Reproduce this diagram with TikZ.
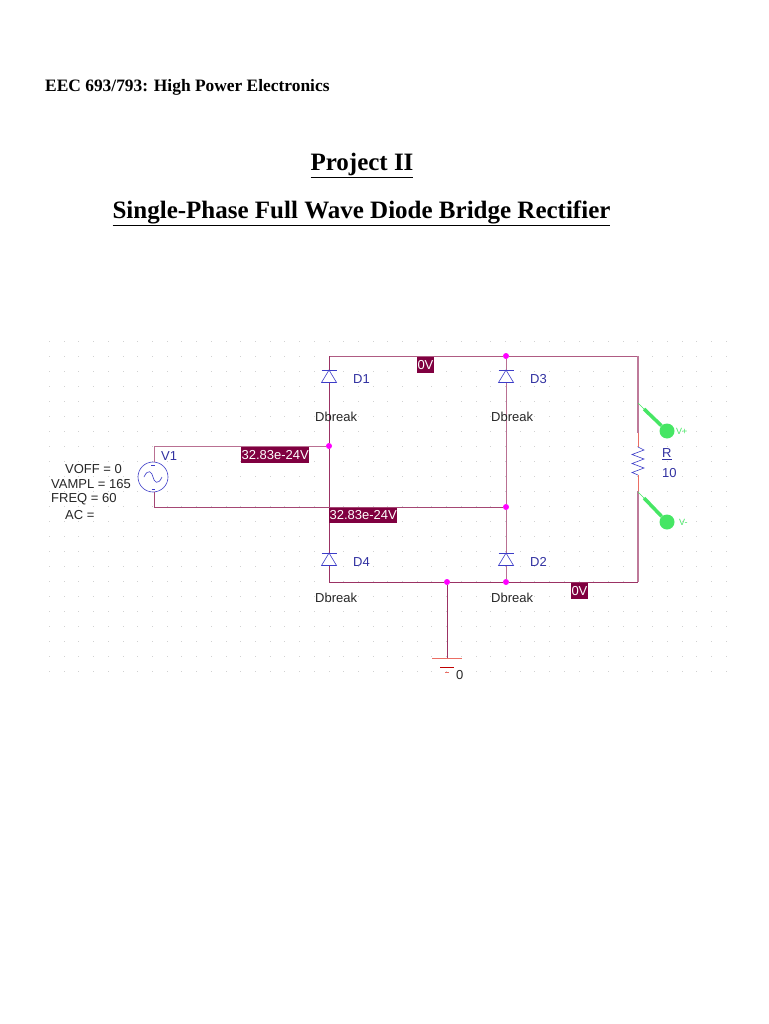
\documentclass[tikz,border=0pt]{standalone}
\usepackage{xcolor}
\usepackage{fontspec}
\setmainfont{Liberation Serif}
\setsansfont{Liberation Sans}
\usetikzlibrary{positioning, calc}
\definecolor{wirecol}{RGB}{155,50,100}
\definecolor{stubcol}{RGB}{235,110,100}
\definecolor{tagcol}{RGB}{128,0,64}
\definecolor{partcol}{RGB}{60,60,200}
\definecolor{probecol}{RGB}{70,230,100}
\definecolor{dotcol}{RGB}{255,0,255}

\begin{document}
\begin{tikzpicture}[
    x=1pt, y=-1pt,
    wire/.style={draw=wirecol, line width=1pt},
    part/.style={draw=partcol, line width=0.6pt},
    partlabel/.style={text=partcol!80!black, font=\sffamily\fontsize{13}{14}\selectfont, anchor=west, inner sep=0pt},
    plainlabel/.style={font=\sffamily\fontsize{13}{14}\selectfont, text=black!85, anchor=west, inner sep=0pt},
    tag/.style={fill=tagcol, text=white, font=\sffamily\fontsize{13}{14}\selectfont, inner sep=0pt, minimum height=15.5pt, anchor=north west},
    junction/.style={circle, fill=dotcol, inner sep=0pt, minimum size=6pt},
    probe/.style={draw=probecol, line width=3.5pt},
    title/.style={font=\bfseries\fontsize{25}{28}\selectfont, inner sep=0pt}
]
\useasboundingbox (0,0) rectangle (768,1024);

% Heading
\node[font=\bfseries\fontsize{17.4}{18}\selectfont, anchor=west, inner sep=0pt] (course) at (45,87) {EEC 693/793: High Power Electronics};
\node[title] (project) at (362,165) {\underline{Project II}};
\node[title] (rectifier) at (361.5,213) {\underline{Single-Phase Full Wave Diode Bridge Rectifier}};

% Grid dots
\foreach \i in {-19,...,27} {
    \foreach \j in {-1,...,21} {
        \fill[black!18] (329+14.71*\i-0.5, 356+15*\j-0.5) rectangle ++(1,1);
    }
}

% Corners and junctions
\coordinate (topleft) at (329,356);
\coordinate (topright) at (638,356);
\coordinate (botleft) at (329,582);
\coordinate (botright) at (638,582);
\coordinate (restop) at (638,447);
\coordinate (resbot) at (638,475);
\coordinate (stubtop) at (638,433);
\coordinate (stubbot) at (638,491);
\coordinate (srctop) at (154,446);
\coordinate (srcbot) at (154,507);
\coordinate (gnd) at (447,658);

% Source
\node[circle, part, fill=white, minimum size=30pt, inner sep=0pt] (V1) at (153,477) {};
\draw[part] ($(V1)+(-9,0)$) .. controls ($(V1)+(-5,-9)$) and ($(V1)+(-1,-5)$) .. (V1.center) .. controls ($(V1)+(1,5)$) and ($(V1)+(5,9)$) .. ($(V1)+(9,0)$);
\draw[part] ($(V1)+(-2,-12)$) -- ($(V1)+(2,-12)$);
\draw[part] ($(V1)+(-1.5,12)$) -- ($(V1)+(1.5,12)$);

% Junctions
\node[junction] (jleft) at (329,446) {};
\node[junction] (jtop) at (506,356) {};
\node[junction] (jmid) at (506,507) {};
\node[junction] (jgnd) at (447,582) {};
\node[junction] (jbot) at (506,582) {};

% Wires
\draw[wire, draw=wirecol!80] (topleft) -- (jtop) -- (topright);
\draw[wire, draw=wirecol!65, line width=1.7pt] (topright) -- (stubtop);
\draw[wire, draw=wirecol!65, line width=1.7pt] (stubbot) -- (botright);
\draw[wire, draw=stubcol] (stubtop) -- (restop);
\draw[wire, draw=stubcol] (resbot) -- (stubbot);
\draw[wire] (botleft) -- (jgnd) -- (jbot) -- (botright);
\draw[wire] (topleft) -- (jleft) -- (botleft);
\draw[wire, draw=wirecol!70] (jtop) -- (jmid) -- (jbot);
\draw[wire, draw=wirecol!70] (V1.north -| srctop) -- (srctop) -- (jleft);
\draw[wire, draw=wirecol!90] (V1.south -| srcbot) -- (srcbot) -- (jmid);
\draw[wire] (jgnd) -- (gnd);

% Diodes
\foreach \x/\y/\name in {329/370/D1, 506/370/D3, 329/553/D4, 506/553/D2} {
    \fill[white] (\x-7.5,\y) rectangle (\x+7.5,\y+12.5);
    \draw[part] (\x-7.5,\y) -- (\x+7.5,\y);
    \draw[part] (\x,\y) -- (\x+7.5,\y+12.5) -- (\x-7.5,\y+12.5) -- cycle;
    \node[partlabel] (label\name) at (\x+24,\y+9) {\name};
}

% Resistor
\draw[part, fill=white] (restop) -- ++(6,3) -- ++(-12,4.5) -- ++(12,4.5) -- ++(-12,4.5) -- ++(12,4.5) -- ++(-12,4.5) -- (resbot);

% Ground
\draw[draw=stubcol, line width=0.8pt] ($(gnd)+(-15,0)$) -- ($(gnd)+(15,0)$);
\draw[draw=red!75!black, line width=1pt] ($(gnd)+(-7,9)$) -- ($(gnd)+(7,9)$);
\draw[draw=stubcol, line width=0.8pt] ($(gnd)+(-2,14)$) -- ($(gnd)+(2,14)$);

% Probes
\coordinate (vplus) at (638,403);
\coordinate (vminus) at (638,492);
\node[circle, fill=probecol, minimum size=15pt, inner sep=0pt] (vplushead) at (667,431) {};
\node[circle, fill=probecol, minimum size=15pt, inner sep=0pt] (vminushead) at (667,522) {};
\draw[probe] ($(vplus)+(6,6)$) -- (vplushead);
\draw[probe] ($(vminus)+(6,6)$) -- (vminushead);
\draw[probecol, line width=0.6pt] (vplus) -- ($(vplus)+(6,6)$);
\draw[probecol, line width=0.6pt] (vminus) -- ($(vminus)+(6,6)$);
\node[text=probecol, font=\sffamily\fontsize{9}{10}\selectfont, anchor=west, inner sep=0pt] (vpluslabel) at (676,431) {V+};
\node[text=probecol, font=\sffamily\fontsize{9}{10}\selectfont, anchor=west, inner sep=0pt] (vminuslabel) at (679,522) {V-};

% Part labels
\node[partlabel] (labelV1) at (161,456) {V1};
\node[partlabel] (labelR) at (662,454) {\underline{R}};
\node[partlabel] (labelRval) at (662,473) {10};
\node[plainlabel] (voff) at (65,469) {VOFF = 0};
\node[plainlabel] (vampl) at (51,484) {VAMPL = 165};
\node[plainlabel] (freq) at (51,499) {FREQ = 60};
\node[plainlabel] (acval) at (65,515) {AC =};
\node[plainlabel] (dbreaka) at (315,417) {Dbreak};
\node[plainlabel] (dbreakb) at (491,417) {Dbreak};
\node[plainlabel] (dbreakc) at (315,598) {Dbreak};
\node[plainlabel] (dbreakd) at (491,598) {Dbreak};
\node[plainlabel] (gndlabel) at (456,675) {0};

% Voltage tags
\node[tag, minimum width=68pt] (tagleft) at (241,447) {32.83e-24V};
\node[tag, minimum width=68pt] (tagmid) at (329,507.5) {32.83e-24V};
\node[tag, minimum width=16.5pt] (tagtop) at (417,357) {0V};
\node[tag, minimum width=16.5pt] (tagbot) at (571,583) {0V};

\end{tikzpicture}
\end{document}
